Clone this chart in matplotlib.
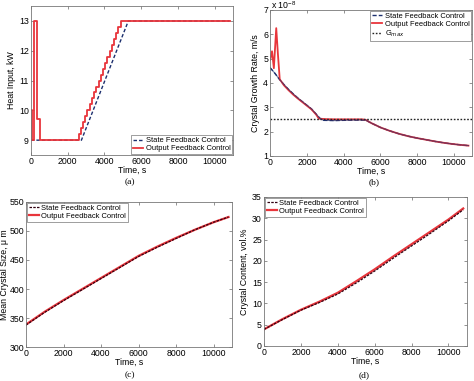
import matplotlib
matplotlib.use('Agg')
import matplotlib.pyplot as plt

plt.rcParams['font.family'] = ['Liberation Sans', 'DejaVu Sans']
plt.rcParams['mathtext.fontset'] = 'custom'
plt.rcParams['mathtext.rm'] = 'Liberation Sans'

RED = '#e8353b'
NAVY = '#1c2f6e'

# (a) heat input, kW
heat_red_t = [0, 50, 180, 360, 490, 2600, 2720, 2840, 2960, 3080, 3200, 3320, 3440,
              3560, 3680, 3800, 3920, 4040, 4160, 4280, 4400, 4520, 4640, 4760, 4880, 10800]
heat_red_q = [10, 9, 13, 9.7, 9, 9.2, 9.4, 9.6, 9.8, 10.0, 10.2, 10.4, 10.6,
              10.8, 11.0, 11.2, 11.4, 11.6, 11.8, 12.0, 12.2, 12.4, 12.6, 12.8, 13.0, 13.0]
heat_blue_t = [0, 2750, 5300, 10800]
heat_blue_q = [9, 9, 13, 13]

# (b) crystal growth rate, x 1e-8 m/s
gr_state_t = [0, 250, 500, 750, 1000, 1250, 1500, 1750, 2000, 2250, 2500, 2700, 2900,
              3500, 4000, 4500, 5000, 5200, 5500, 6000, 6500, 7000, 7500, 8000, 8500,
              9000, 9500, 10000, 10500, 10800]
gr_state = [4.62, 4.4, 4.15, 3.93, 3.73, 3.55, 3.38, 3.23, 3.08, 2.93, 2.72, 2.55, 2.46,
            2.45, 2.46, 2.47, 2.47, 2.47, 2.35, 2.17, 2.03, 1.91, 1.81, 1.73, 1.66,
            1.59, 1.53, 1.48, 1.44, 1.42]
gr_out_t = [0, 100, 200, 330, 420, 520, 750, 1000, 1250, 1500, 1750, 2000, 2250, 2500,
            2650, 3000, 3500, 4000, 4500, 5000, 5200, 5500, 6000, 6500, 7000, 7500, 8000,
            8500, 9000, 9500, 10000, 10500, 10800]
gr_out = [4.95, 5.3, 4.6, 6.25, 5.2, 4.15, 3.9, 3.7, 3.52, 3.36, 3.21, 3.06, 2.91, 2.7,
          2.53, 2.51, 2.5, 2.5, 2.5, 2.5, 2.48, 2.35, 2.17, 2.03, 1.91, 1.81, 1.73,
          1.66, 1.59, 1.53, 1.48, 1.44, 1.42]
g_max = 2.5

# (c) mean crystal size, um and (d) crystal content, vol.%
time = [0, 1000, 2000, 3000, 4000, 5000, 6000, 7000, 8000, 9000, 10000, 10800]
size_state = [338, 360, 380, 399, 418, 437, 456, 472, 487, 502, 515, 524]
size_out = [339, 361, 381, 400, 419, 438, 457, 473, 488, 502, 515, 524]
cont_state = [3.9, 6.2, 8.4, 10.2, 12.2, 14.8, 17.6, 20.6, 23.5, 26.4, 29.4, 32.0]
cont_out = [3.9, 6.3, 8.5, 10.4, 12.5, 15.2, 18.0, 21.0, 23.9, 26.8, 29.7, 32.3]

fig = plt.figure(figsize=(4.74, 3.81), dpi=100)
ax_a = fig.add_axes([0.065, 0.593, 0.427, 0.391])
ax_b = fig.add_axes([0.570, 0.591, 0.426, 0.383])
ax_c = fig.add_axes([0.055, 0.089, 0.435, 0.381])
ax_d = fig.add_axes([0.557, 0.092, 0.428, 0.391])

fs = 6.3
lfs = 5.4

def style(ax):
    ax.tick_params(direction='in', top=True, right=True, labelsize=fs,
                   length=2, width=0.5, pad=1.5, color='#666666')
    for s in ax.spines.values():
        s.set_linewidth(0.6)
        s.set_color('#777777')
    ax.set_xlim(0, 11000)
    ax.set_xticks([0, 2000, 4000, 6000, 8000, 10000])
    ax.set_xlabel('Time, s', fontsize=fs, labelpad=0)

def leg(ax, loc, handles=None, labels=None):
    if handles is None:
        handles, labels = ax.get_legend_handles_labels()
    l = ax.legend(handles, labels, loc=loc, fontsize=lfs, handlelength=1.4,
                  handletextpad=0.3, borderpad=0.25, labelspacing=0.12,
                  borderaxespad=0.1, fancybox=False, framealpha=1)
    l.get_frame().set_edgecolor('#777777')
    l.get_frame().set_linewidth(0.5)

# (a)
ax_a.plot(heat_blue_t, heat_blue_q, color=NAVY, lw=1.0, ls=(0, (2.5, 1.5)),
          label='State Feedback Control')
ax_a.plot(heat_red_t, heat_red_q, color=RED, lw=1.3, drawstyle='steps-post',
          label='Output Feedback Control')
style(ax_a)
ax_a.set_ylim(8.5, 13.5)
ax_a.set_yticks([9, 10, 11, 12, 13])
ax_a.set_ylabel('Heat Input, kW', fontsize=fs, labelpad=2)
leg(ax_a, 'lower right')

# (b)
ax_b.plot(gr_state_t, gr_state, color=NAVY, lw=1.0, ls=(0, (3, 1.5)),
          label='State Feedback Control')
ax_b.plot(gr_out_t, gr_out, color=RED, lw=1.3, label='Output Feedback Control')
ax_b.axhline(g_max, color='#222222', lw=1.0, ls=(0, (1.2, 1.2)), label='G$_{max}$')
ax_b.plot(gr_state_t, gr_state, color=NAVY, lw=0.8, alpha=0.6)
style(ax_b)
ax_b.set_ylim(1, 7)
ax_b.set_yticks([1, 2, 3, 4, 5, 6, 7])
ax_b.set_ylabel('Crystal Growth Rate, m/s', fontsize=fs, labelpad=2)
ax_b.text(0.005, 0.99, 'x 10$^{-8}$', transform=ax_b.transAxes, fontsize=fs,
          va='bottom', ha='left')
leg(ax_b, 'upper right')

# (c)
ax_c.plot(time, size_out, color=RED, lw=1.6, label='Output Feedback Control')
ax_c.plot(time, size_state, color='#300010', lw=0.9, ls=(0, (2, 1)),
          label='State Feedback Control')
style(ax_c)
ax_c.set_ylim(300, 550)
ax_c.set_yticks([300, 350, 400, 450, 500, 550])
ax_c.set_ylabel('Mean Crystal Size, \u03bc m', fontsize=fs)
ax_c.yaxis.set_label_coords(-0.085, 0.5)
h, lb = ax_c.get_legend_handles_labels()
leg(ax_c, 'upper left', h[::-1], lb[::-1])

# (d)
ax_d.plot(time, cont_out, color=RED, lw=1.6, label='Output Feedback Control')
ax_d.plot(time, cont_state, color='#300010', lw=0.9, ls=(0, (2, 1)),
          label='State Feedback Control')
style(ax_d)
ax_d.set_ylim(0, 35)
ax_d.set_yticks([0, 5, 10, 15, 20, 25, 30, 35])
ax_d.set_ylabel('Crystal Content, vol.%', fontsize=fs, labelpad=2)
h, lb = ax_d.get_legend_handles_labels()
leg(ax_d, 'upper left', h[::-1], lb[::-1])

# captions
cap = dict(fontsize=6.8, family=['Liberation Serif', 'DejaVu Serif'], ha='center', va='center')
fig.text(130 / 474, 1 - 182 / 381, '(a)', **cap)
fig.text(374 / 474, 1 - 182 / 381, '(b)', **cap)
fig.text(130 / 474, 1 - 375 / 381, '(c)', **cap)
fig.text(364 / 474, 1 - 375 / 381, '(d)', **cap)

fig.savefig('out.png', dpi=100)
